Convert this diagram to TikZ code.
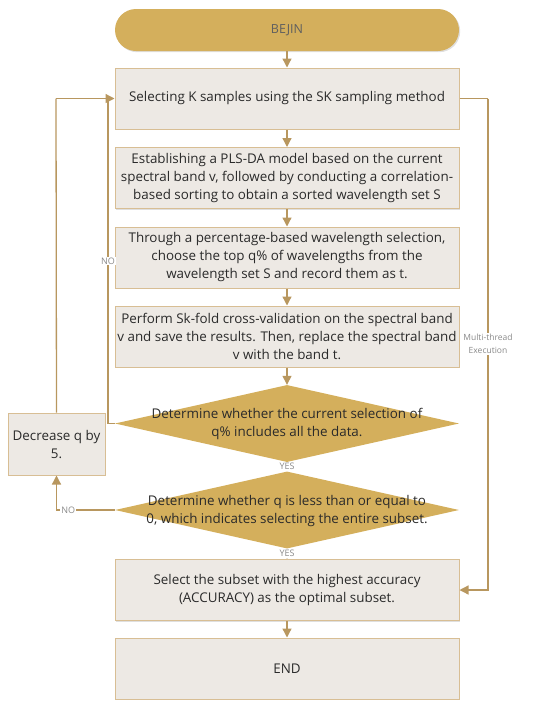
\documentclass[tikz,border=0pt]{standalone}
\usepackage{fontspec}
\setmainfont{Open Sans}
\usetikzlibrary{arrows.meta,shapes.geometric,shadows}
\definecolor{gold}{HTML}{D4AF5C}
\definecolor{boxfill}{HTML}{EDE9E4}
\definecolor{boxline}{HTML}{D8BE94}
\definecolor{conn}{HTML}{B8975F}
\definecolor{txt}{HTML}{2A2A2A}
\definecolor{lbl}{HTML}{8A8A8A}
\tikzset{
  stepbox/.style={draw=boxline, line width=1pt, fill=boxfill, minimum width=344pt, minimum height=61pt, inner sep=0pt, align=center, text=txt, font=\fontsize{13.4}{18}\selectfont, drop shadow={opacity=0.25, shadow xshift=1.2pt, shadow yshift=-1.2pt}},
  decide/.style={diamond, fill=gold, draw=none, minimum width=344pt, minimum height=77pt, inner sep=0pt},
  decidetext/.style={align=center, text=txt, font=\fontsize{13.4}{18.5}\selectfont, inner sep=0pt},
  flow/.style={draw=conn, line width=1.3pt, -{Triangle[length=9pt,width=9pt]}},
  plain/.style={draw=conn, line width=1.3pt},
  tag/.style={fill=white, text=lbl, font=\fontsize{9}{10}\selectfont, inner sep=1pt},
}
\begin{document}
\begin{tikzpicture}[x=1pt,y=-1pt]
\useasboundingbox (0,0) rectangle (550,710);
\node[fill=gold, rounded corners=21pt, minimum width=344pt, minimum height=42pt, inner sep=0pt, text=txt!75, font=\fontsize{12.5}{15}\selectfont, drop shadow={opacity=0.25, shadow xshift=1.2pt, shadow yshift=-1.2pt}] (begin) at (287,30) {BEJIN};
\node[stepbox] (s1) at (287,98.5) {Selecting K samples using the SK sampling method};
\node[stepbox] (s2) at (287,178) {Establishing a PLS-DA model based on the current\\spectral band v, followed by conducting a correlation-\\based sorting to obtain a sorted wavelength set S};
\node[stepbox] (s3) at (287,257.5) {Through a percentage-based wavelength selection,\\choose the top q\% of wavelengths from the\\wavelength set S and record them as t.};
\node[stepbox] (s4) at (287,336.5) {Perform Sk-fold cross-validation on the spectral band\\v and save the results. Then, replace the spectral band\\v with the band t.};
\node[decide] (d1) at (287,423.5) {};
\node[decidetext] (d1t) at (287,424) {Determine whether the current selection of\\q\% includes all the data.};
\node[decide] (d2) at (287,510) {};
\node[decidetext] (d2t) at (287,511) {Determine whether q is less than or equal to\\0, which indicates selecting the entire subset.};
\node[stepbox, minimum width=97pt, minimum height=62pt] (dec) at (56.5,444) {Decrease q by\\5.};
\node[stepbox] (s5) at (287,590) {Select the subset with the highest accuracy\\(ACCURACY) as the optimal subset.};
\node[stepbox] (end) at (287,668.5) {END};
\coordinate (cl) at (56,98.5);
\coordinate (ci) at (108,98.5);
\coordinate (cr) at (488,98.5);
\coordinate (crb) at (488,590);
\draw[flow] (begin) -- (s1);
\draw[flow] (s1) -- (s2);
\draw[flow] (s2) -- (s3);
\draw[flow] (s3) -- (s4);
\draw[flow] (s4) -- (d1.north);
\draw[plain] (d1.south) -- node[tag, pos=0.45] (yes1) {YES} (d2.north);
\draw[flow] (d2.south) -- node[tag, pos=0.45] (yes2) {YES} (s5);
\draw[flow] (s5) -- (end);
\draw[plain] (d1.west) -| node[tag, pos=0.75] (no1) {NO} (ci);
\draw[flow] (d2.west) -| node[tag, pos=0.4] (no2) {NO} (dec.south);
\draw[plain] (dec.north) -- (cl);
\draw[flow] (cl) -- (s1.west);
\draw[plain] (s1.east) -- (cr);
\draw[flow] (cr) -- node[tag, pos=0.5, align=center, font=\fontsize{8.5}{13}\selectfont] (mt) {Multi-thread\\Execution} (crb) -- (s5.east);
\end{tikzpicture}
\end{document}
